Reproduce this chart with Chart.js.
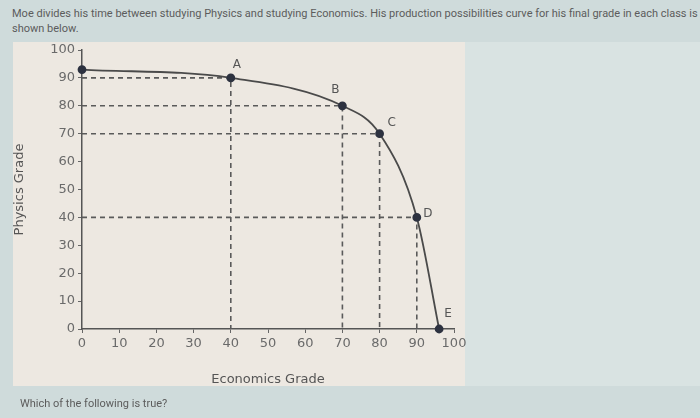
<!DOCTYPE html>
<html>
<head>
<meta charset="utf-8">
<script src="https://cdn.jsdelivr.net/npm/chart.js@4.4.1/dist/chart.umd.min.js"></script>
<style>
    html, body { margin: 0; padding: 0; }
    body {
        width: 700px; height: 418px; position: relative; overflow: hidden;
        background: #cfdbdb;
        font-family: Roboto, 'Liberation Sans', sans-serif;
    }
    #question {
        position: absolute; left: 12px; top: 6px;
        font-size: 11px; line-height: 15px; color: #5c5c5c; white-space: nowrap;
    }
    #panel {
        position: absolute; left: 13px; top: 42px; width: 452px; height: 344px;
        background: #ede8e1;
    }
    #side {
        position: absolute; left: 465px; top: 42px; width: 235px; height: 344px;
        background: #d9e3e2;
    }
    #footer {
        position: absolute; left: 20px; top: 397px;
        font-size: 11px; color: #5c5c5c;
    }
    #chart { position: absolute; left: 0; top: 0; }
</style>
</head>
<body>
<div id="question">Moe divides his time between studying Physics and studying Economics. His production possibilities curve for his final grade in each class is<br>shown below.</div>
<div id="panel"></div>
<div id="side"></div>
<canvas id="chart" width="700" height="418"></canvas>
<div id="footer">Which of the following is true?</div>

<script>
// Data of the production possibilities curve
const econGrade = [0, 40, 70, 80, 90, 96];
const physicsGrade = [93, 90, 80, 70, 40, 0];
const pointNames = ['', 'A', 'B', 'C', 'D', 'E'];
const gradeTicks = [0, 10, 20, 30, 40, 50, 60, 70, 80, 90, 100];

// label offsets in pixels from the point
const labelOffsets = {
    A: [6, -13], B: [-7, -16], C: [12, -11], D: [11, -4], E: [9, -15]
};

Chart.defaults.font.family = "'DejaVu Sans', sans-serif";

const curvePoints = econGrade.map((x, i) => ({ x: x, y: physicsGrade[i] }));

// dashed guide lines for the named points (not for E on the axis)
const guideSets = [];
pointNames.forEach((name, i) => {
    if (!name || physicsGrade[i] === 0) return;
    guideSets.push({
        data: [
            { x: 0, y: physicsGrade[i] },
            { x: econGrade[i], y: physicsGrade[i] },
            { x: econGrade[i], y: 0 }
        ],
        showLine: true,
        borderColor: '#5a5a5a',
        borderWidth: 1.6,
        borderDash: [5, 4],
        pointRadius: 0,
        tension: 0,
        clip: false
    });
});

const pointLabels = {
    id: 'pointLabels',
    afterDatasetsDraw(chart) {
        const ctx = chart.ctx;
        const xs = chart.scales.x;
        const ys = chart.scales.y;
        ctx.save();
        ctx.font = "12px 'DejaVu Sans', sans-serif";
        ctx.fillStyle = '#555';
        ctx.textAlign = 'center';
        ctx.textBaseline = 'middle';
        pointNames.forEach((name, i) => {
            if (!name) return;
            const off = labelOffsets[name];
            ctx.fillText(name, xs.getPixelForValue(econGrade[i]) + off[0],
                ys.getPixelForValue(physicsGrade[i]) + off[1]);
        });
        ctx.restore();
    }
};

const axisStyle = (title) => ({
    type: 'linear',
    min: 0,
    max: 100,
    afterBuildTicks: (scale) => { scale.ticks = gradeTicks.map(v => ({ value: v })); },
    ticks: { color: '#6a6a6a', font: { size: 13 }, padding: 3 },
    grid: { drawOnChartArea: false, drawTicks: true, tickLength: 4, color: '#666' },
    border: { color: '#555', width: 1.5 },
    title: { display: true, text: title, color: '#555', font: { size: 13 } }
});

const xAxis = axisStyle('Economics Grade');
xAxis.title.padding = { top: 4, bottom: 4 };
xAxis.afterFit = (scale) => { scale.height = 62; };

const yAxis = axisStyle('Physics Grade');
yAxis.afterFit = (scale) => { scale.width = 74; };

new Chart(document.getElementById('chart'), {
    type: 'scatter',
    data: {
        datasets: [{
            data: curvePoints,
            showLine: true,
            borderColor: '#4a4a4a',
            borderWidth: 1.8,
            cubicInterpolationMode: 'monotone',
            pointRadius: 3.5,
            pointBackgroundColor: '#2d3240',
            pointBorderColor: '#2d3240',
            clip: false
        }, ...guideSets]
    },
    options: {
        responsive: false,
        animation: false,
        layout: { padding: { left: 8, top: 50, right: 246, bottom: 27 } },
        plugins: { legend: { display: false }, tooltip: { enabled: false } },
        scales: { x: xAxis, y: yAxis }
    },
    plugins: [pointLabels]
});
</script>
</body>
</html>
